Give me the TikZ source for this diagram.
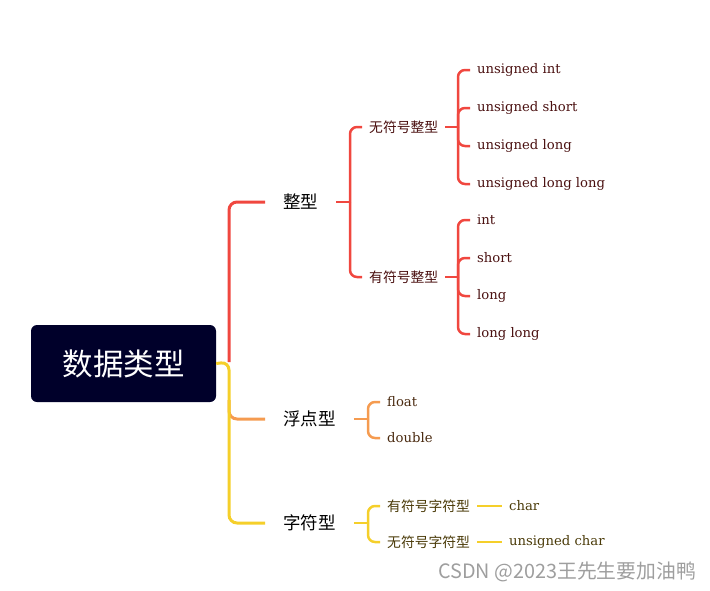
\documentclass[tikz,border=0pt]{standalone}
\usepackage{fontspec}
\setmainfont{DejaVu Serif}
\newfontfamily\cjk{Noto Sans CJK SC}
\definecolor{cred}{HTML}{F0473F}
\definecolor{corg}{HTML}{F59B50}
\definecolor{cyel}{HTML}{F5CF2A}
\definecolor{croot}{HTML}{00002A}
\definecolor{tred}{HTML}{4A1010}
\definecolor{torg}{HTML}{4A2A10}
\definecolor{tyel}{HTML}{4A3A08}
\begin{document}
\begin{tikzpicture}[x=1pt,y=-1pt,
  trunk/.style={line width=3pt,rounded corners=8pt},
  twig/.style={line width=2.5pt,rounded corners=7pt},
  rootbox/.style={fill=croot,rounded corners=6pt,minimum width=185pt,minimum height=77pt,text=white,font=\cjk\fontsize{30.5}{35}\selectfont},
  lone/.style={anchor=west,inner xsep=18pt,inner ysep=2pt,font=\cjk\fontsize{17.5}{20}\selectfont,text=black},
  ltwo/.style={anchor=west,inner xsep=7pt,inner ysep=2pt,font=\cjk\fontsize{13.8}{16}\selectfont},
  leaf/.style={anchor=west,inner xsep=7pt,inner ysep=2pt,font=\fontsize{13.2}{16}\selectfont}]
\useasboundingbox (0,0) rectangle (710,590);

% root
\node[rootbox] (root) at (123.5,363.5) {数据类型};
\coordinate (jr) at (229,362);
\coordinate (jf) at (229,400);

% level 1
\node[lone] (zx) at (265,202) {整型};
\node[lone] (fd) at (265,419) {浮点型};
\node[lone] (zf) at (265,523) {字符型};

% level 2 integer
\coordinate (jz) at (350,202);
\node[ltwo,text=tred] (wz) at (362,127) {无符号整型};
\node[ltwo,text=tred] (yz) at (362,277) {有符号整型};
\coordinate (jwz) at (458,127);
\coordinate (jyz) at (458,277);

% leaves integer
\node[leaf,text=tred] (a1) at (470,70) {unsigned int};
\node[leaf,text=tred] (a2) at (470,108) {unsigned short};
\node[leaf,text=tred] (a3) at (470,146) {unsigned long};
\node[leaf,text=tred] (a4) at (470,184) {unsigned long long};
\node[leaf,text=tred] (b1) at (470,220) {int};
\node[leaf,text=tred] (b2) at (470,258) {short};
\node[leaf,text=tred] (b3) at (470,296) {long};
\node[leaf,text=tred] (b4) at (470,334) {long long};

% float
\coordinate (jfd) at (368,419);
\node[leaf,text=torg] (f1) at (380,402) {float};
\node[leaf,text=torg] (f2) at (380,438) {double};

% char
\coordinate (jzf) at (368,523);
\node[ltwo,text=tyel] (c1) at (380,506) {有符号字符型};
\node[ltwo,text=tyel] (c2) at (380,542) {无符号字符型};
\node[leaf,text=tyel] (d1) at (502,506) {char};
\node[leaf,text=tyel] (d2) at (502,542) {unsigned char};

% connectors
\draw[trunk,corg] (jf) |- (fd.west);
\draw[trunk,cyel] (root.east) -- (jr) |- (zf.west);
\draw[trunk,cred] (jr) |- (zx.west);

\draw[twig,cred] (zx.east) -- (jz);
\draw[twig,cred] (jz) |- (wz.west);
\draw[twig,cred] (jz) |- (yz.west);
\draw[twig,cred] (wz.east) -- (jwz);
\draw[twig,cred] (yz.east) -- (jyz);
\foreach \n in {a1,a2,a3,a4} \draw[twig,cred] (jwz) |- (\n.west);
\foreach \n in {b1,b2,b3,b4} \draw[twig,cred] (jyz) |- (\n.west);

\draw[twig,corg] (fd.east) -- (jfd);
\draw[twig,corg] (jfd) |- (f1.west);
\draw[twig,corg] (jfd) |- (f2.west);

\draw[twig,cyel] (zf.east) -- (jzf);
\draw[twig,cyel] (jzf) |- (c1.west);
\draw[twig,cyel] (jzf) |- (c2.west);
\draw[twig,cyel] (c1.east) -- (d1.west);
\draw[twig,cyel] (c2.east) -- (d2.west);

% watermark
\node[anchor=east,text=black!38,font=\cjk\fontsize{19.8}{23}\selectfont,inner sep=0pt] (wm) at (696,572) {CSDN @2023王先生要加油鸭};
\end{tikzpicture}
\end{document}
